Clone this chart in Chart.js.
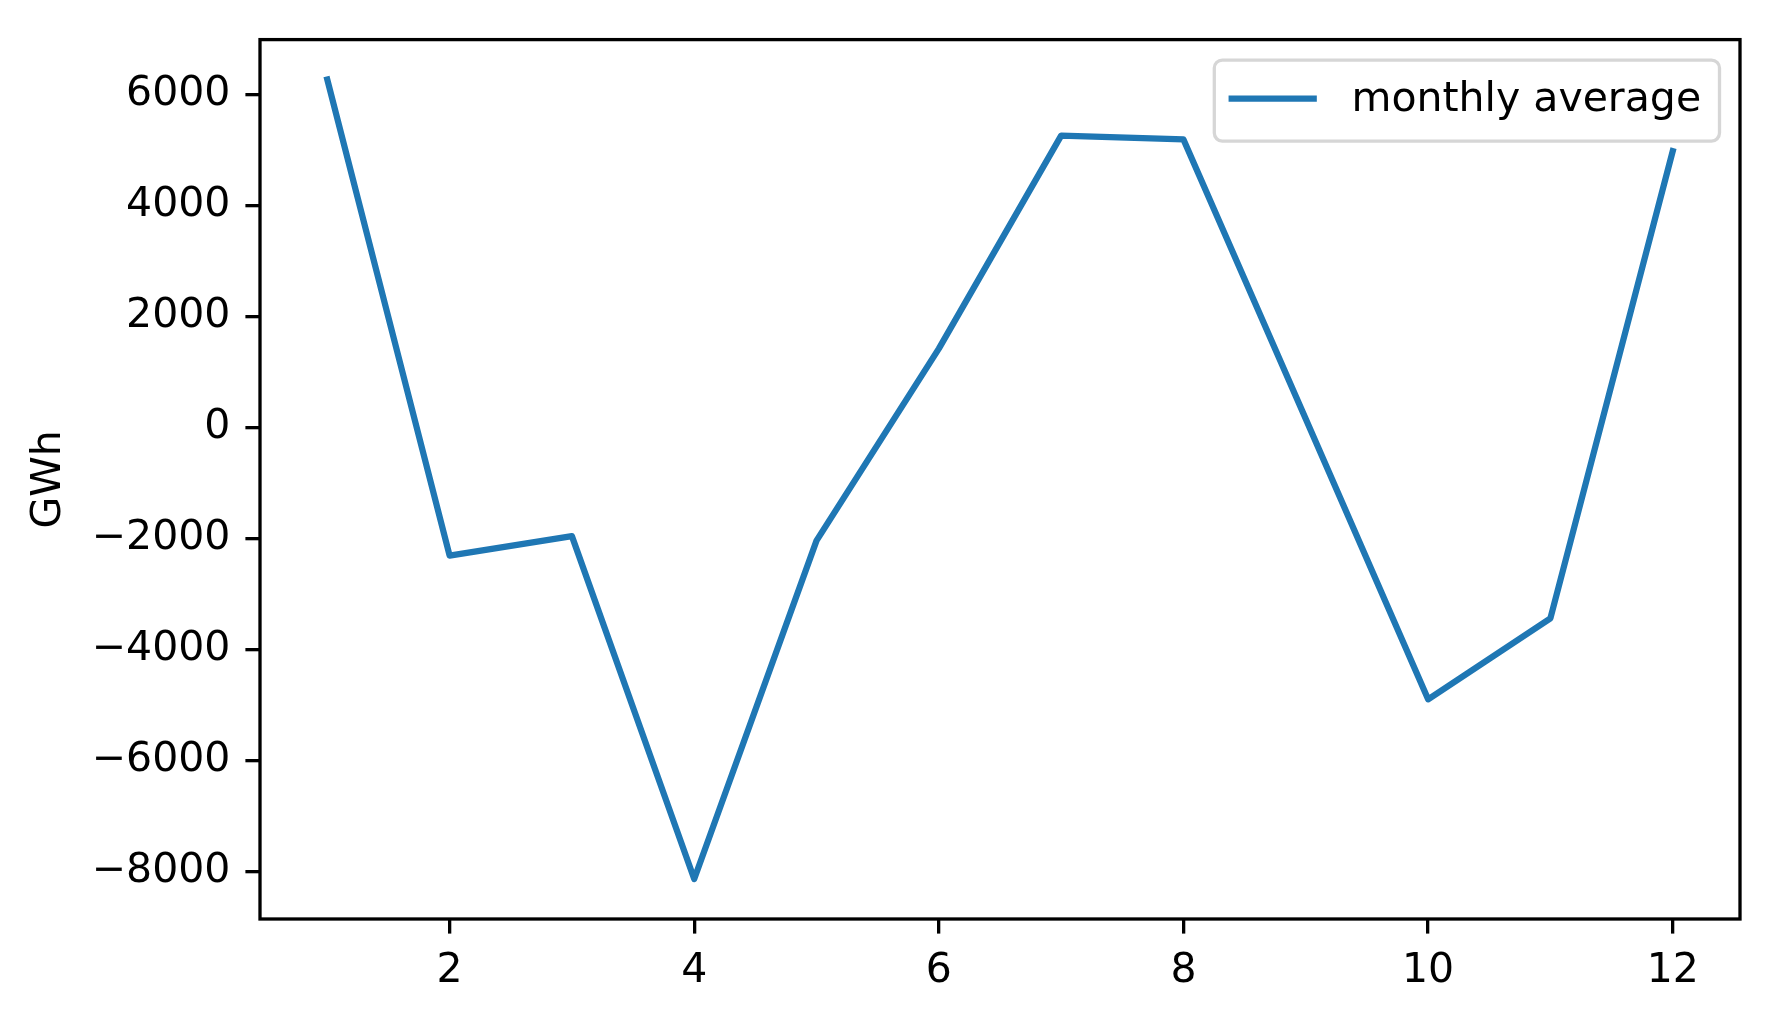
<!DOCTYPE html>
<html>
<head>
<meta charset="utf-8">
<title>monthly average</title>
<script src="https://cdn.jsdelivr.net/npm/chart.js@4.4.1/dist/chart.umd.min.js"></script>
<style>
  html, body { margin: 0; padding: 0; background: #fff; }
  #wrap { width: 1770px; height: 1020px; }
</style>
</head>
<body>
<div id="wrap"><canvas id="chart" width="1770" height="1020"></canvas></div>
<script>
// Data
const months = [1, 2, 3, 4, 5, 6, 7, 8, 9, 10, 11, 12];
const monthlyAverage = [6270, -2310, -1960, -8140, -2040, 1420, 5260, 5190, 150, -4900, -3440, 4980];
const xTicks = [2, 4, 6, 8, 10, 12];
const yTicks = [-8000, -6000, -4000, -2000, 0, 2000, 4000, 6000];
const seriesLabel = 'monthly average';
const yTitle = 'GWh';

const FONT = 'DejaVu Sans';
const FS = 41;
const LINE_COLOR = '#1f77b4';
const AXIS_W = 3.3;

// matplotlib-style 5% margins
function padRange(vals) {
    const lo = Math.min(...vals), hi = Math.max(...vals);
    const m = (hi - lo) * 0.05;
    return [lo - m, hi + m];
}
const [xMin, xMax] = padRange(months);
const [yMin, yMax] = padRange(monthlyAverage);

function fmt(v) {
    return String(v).replace('-', '\u2212');
}

// Frame around the plot area, drawn above the line like matplotlib spines
const framePlugin = {
    id: 'frame',
    afterDatasetsDraw(chart) {
        const a = chart.chartArea;
        const ctx = chart.ctx;
        ctx.save();
        ctx.strokeStyle = '#000';
        ctx.lineWidth = AXIS_W;
        ctx.lineJoin = 'miter';
        ctx.strokeRect(a.left, a.top, a.right - a.left, a.bottom - a.top);
        ctx.restore();
    }
};

// Legend box in the upper right corner of the axes
const legendPlugin = {
    id: 'mplLegend',
    afterDraw(chart) {
        const a = chart.chartArea;
        const ctx = chart.ctx;
        const ds = chart.data.datasets[0];
        ctx.save();
        ctx.font = FS + 'px "' + FONT + '"';
        const textW = ctx.measureText(ds.label).width;
        const pad = 0.4 * FS, handleLen = 2 * FS, handlePad = 0.8 * FS + 5, axPad = 0.5 * FS;
        const w = pad * 2 + 3 + handleLen + handlePad + textW;
        const h = 81;
        const x = a.right - axPad - w;
        const y = a.top + axPad;
        const r = 8;
        ctx.beginPath();
        ctx.moveTo(x + r, y);
        ctx.arcTo(x + w, y, x + w, y + h, r);
        ctx.arcTo(x + w, y + h, x, y + h, r);
        ctx.arcTo(x, y + h, x, y, r);
        ctx.arcTo(x, y, x + w, y, r);
        ctx.closePath();
        ctx.fillStyle = 'rgba(255,255,255,0.8)';
        ctx.fill();
        ctx.strokeStyle = '#d6d6d6';
        ctx.lineWidth = AXIS_W;
        ctx.stroke();

        const cy = y + h / 2;
        const hx = x + pad + 1;
        ctx.beginPath();
        ctx.moveTo(hx, cy - 2);
        ctx.lineTo(hx + handleLen, cy - 2);
        ctx.strokeStyle = ds.borderColor;
        ctx.lineWidth = ds.borderWidth;
        ctx.lineCap = 'square';
        ctx.stroke();

        ctx.fillStyle = '#000';
        ctx.textAlign = 'left';
        ctx.textBaseline = 'middle';
        ctx.fillText(ds.label, hx + handleLen + handlePad, cy);
        ctx.restore();
    }
};

const ctx = document.getElementById('chart').getContext('2d');
new Chart(ctx, {
    type: 'line',
    data: {
        datasets: [{
            label: seriesLabel,
            data: months.map((m, i) => ({ x: m, y: monthlyAverage[i] })),
            borderColor: LINE_COLOR,
            borderWidth: 6.25,
            borderJoinStyle: 'round',
            borderCapStyle: 'square',
            pointRadius: 0,
            tension: 0,
            fill: false
        }]
    },
    options: {
        responsive: false,
        devicePixelRatio: 1,
        animation: false,
        layout: { padding: { top: 30, right: 30, left: 0, bottom: 0 } },
        plugins: {
            legend: { display: false },
            tooltip: { enabled: false }
        },
        scales: {
            x: {
                type: 'linear',
                min: xMin,
                max: xMax,
                afterBuildTicks: s => { s.ticks = xTicks.map(v => ({ value: v })); },
                afterFit: s => { s.height = 101; },
                grid: { drawOnChartArea: false, drawTicks: true, tickLength: 14.6, color: '#000', lineWidth: AXIS_W },
                border: { display: false },
                ticks: {
                    color: '#000',
                    font: { family: FONT, size: FS },
                    padding: 13,
                    maxRotation: 0,
                    autoSkip: false,
                    callback: v => fmt(v)
                }
            },
            y: {
                type: 'linear',
                min: yMin,
                max: yMax,
                afterBuildTicks: s => { s.ticks = yTicks.map(v => ({ value: v })); },
                afterFit: s => { s.width = 260; },
                grid: { drawOnChartArea: false, drawTicks: true, tickLength: 14.6, color: '#000', lineWidth: AXIS_W },
                border: { display: false },
                title: {
                    display: true,
                    text: yTitle,
                    color: '#000',
                    font: { family: FONT, size: FS },
                    padding: { top: 25, bottom: 0 }
                },
                ticks: {
                    color: '#000',
                    font: { family: FONT, size: FS },
                    padding: 15,
                    autoSkip: false,
                    callback: v => fmt(v)
                }
            }
        }
    },
    plugins: [framePlugin, legendPlugin]
});
</script>
</body>
</html>
